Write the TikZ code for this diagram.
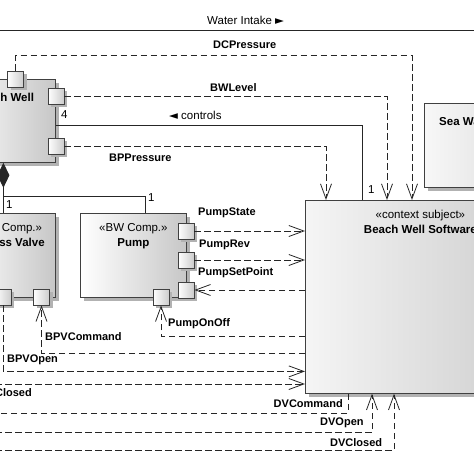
\documentclass[tikz,border=0pt]{standalone}
\usepackage{fontspec}
\setmainfont{Liberation Sans}
\newfontfamily\symfont{DejaVu Sans}
\usetikzlibrary{arrows.meta,positioning,shadows}

\begin{document}
\begin{tikzpicture}[x=1pt,y=-1pt,
  part/.style={draw=black!75, line width=0.8pt, left color=white, right color=black!22, inner sep=0pt, anchor=north west,
    drop shadow={shadow xshift=4pt,shadow yshift=-4pt,fill=black!30,opacity=1}},
  port/.style={draw=black!75, line width=0.8pt, left color=white, right color=black!20, minimum size=16pt, inner sep=0pt,
    drop shadow={shadow xshift=3pt,shadow yshift=-3pt,fill=black!30,opacity=1}},
  flow/.style={draw=black!85, line width=0.8pt, dash pattern=on 6.5pt off 3.5pt},
  into/.style={flow, -{Straight Barb[length=15pt,width=11pt]}},
  assoc/.style={draw=black!85, line width=0.9pt},
  lbl/.style={font=\fontsize{11}{13}\selectfont\bfseries, inner sep=0pt, anchor=west},
  txt/.style={font=\fontsize{11.5}{13}\selectfont, inner sep=0pt, anchor=west},
  boxtext/.style={font=\fontsize{11.5}{15}\selectfont, align=center, inner sep=0pt}]
\useasboundingbox (0,0) rectangle (474,474);
\clip (0,0) rectangle (474,474);

% blocks
\node [part, minimum width=104pt, minimum height=83pt] (bw) at (-49,79) {};
\node [part, minimum width=95pt, minimum height=84pt] (bpv) at (-40,213) {};
\node [part, minimum width=106pt, minimum height=84pt] (pump) at (80,213) {};
\node [part, minimum width=230pt, minimum height=193pt, left color=black!4, right color=black!20] (sw) at (305,200) {};
\node [part, minimum width=120pt, minimum height=84pt, left color=black!3, right color=black!15] (sea) at (424,103) {};

\node [boxtext, font=\fontsize{11.5}{15}\selectfont\bfseries] at ([yshift=-18pt]bw.north) {Beach Well};
\node [boxtext] at ([yshift=-23pt]bpv.north) {«BW Comp.»\\\textbf{Bypass Valve}};
\node [boxtext] at ([yshift=-23pt]pump.north) {«BW Comp.»\\\textbf{Pump}};
\node [boxtext] at ([yshift=-22pt]sw.north) {«context subject»\\\textbf{Beach Well Software}};
\node [boxtext, anchor=west, font=\fontsize{11.5}{15}\selectfont\bfseries] at ([xshift=15pt,yshift=-19pt]sea.north west) {Sea Water};

% free ends
\coordinate (wiL) at (-5,30);
\coordinate (wiR) at (480,30);
\coordinate (bpvcl) at (-5,384);
\coordinate (dvcm) at (-5,413);
\coordinate (dvop) at (-5,432);
\coordinate (dvcl) at (-5,450);

% associations
\draw [assoc] (wiL) -- (wiR);
\node [txt] at (207,20) {Water Intake {\symfont ►}};
\draw [assoc] ([yshift=-4.5pt]bw.east) -| ([xshift=57pt]sw.north west);
\node [txt] at (61,115) {4};
\node [txt] at (169,115) {{\symfont ◄} controls};
\node [txt] at (368,190) {1};
\draw [assoc, {Diamond[length=25pt,width=12pt]}-] (bw.south) -- (bw.south |- bpv.north);
\draw [assoc] ([yshift=-34pt]bw.south) -| ([xshift=12pt]pump.north);
\node [txt] at (6,205) {1};
\node [txt] at (148,198) {1};

% ports
\node [port] (bwdc) at (15.5,79) {};
\node [port] (bwlv) at (56,96) {};
\node [port] (bwbp) at (56,146) {};
\node [port] (bpvop) at (3,297) {};
\node [port] (bpvcm) at (41.5,297) {};
\node [port] (pst) at (186,231) {};
\node [port] (prv) at (186,260) {};
\node [port] (psp) at (186,290) {};
\node [port] (poo) at (161,297) {};

% flows
\draw [into] (bwdc.north) -- ++(0,-15) -| ([xshift=107pt]sw.north west);
\node [lbl] at (213,45) {DCPressure};
\draw [into] (bwlv.east) -| ([xshift=82pt]sw.north west);
\node [lbl] at (210,88) {BWLevel};
\draw [into] (bwbp.east) -| ([xshift=21pt]sw.north west);
\node [lbl] at (109,158) {BPPressure};

\draw [into] (pst.east) -- (pst.east -| sw.west);
\node [lbl] at (198,213) {PumpState};
\draw [into] (prv.east) -- (prv.east -| sw.west);
\node [lbl] at (199,245) {PumpRev};
\draw [into] (psp.east -| sw.west) -- (psp.east);
\node [lbl] at (198,273) {PumpSetPoint};
\draw [into] ([yshift=-39.5pt]sw.west) -| (poo.south);
\node [lbl] at (168,324) {PumpOnOff};

\draw [into] ([yshift=-56.5pt]sw.west) -| (bpvcm.south);
\node [lbl] at (45,337) {BPVCommand};
\draw [into] (bpvop.south) |- ([yshift=-74.5pt]sw.west);
\node [lbl] at (7,360) {BPVOpen};
\draw [into] (bpvcl) -- (bpvcl -| sw.west);
\node [lbl, anchor=east] at (32,393) {BPVClosed};

\draw [flow] ([xshift=43pt]sw.south west) |- (dvcm);
\node [lbl, anchor=east] at (343,404) {DVCommand};
\draw [into] (dvop) -| ([xshift=67pt]sw.south west);
\node [lbl] at (320,423) {DVOpen};
\draw [into] (dvcl) -| ([xshift=89pt]sw.south west);
\node [lbl] at (330,443) {DVClosed};
\end{tikzpicture}
\end{document}
